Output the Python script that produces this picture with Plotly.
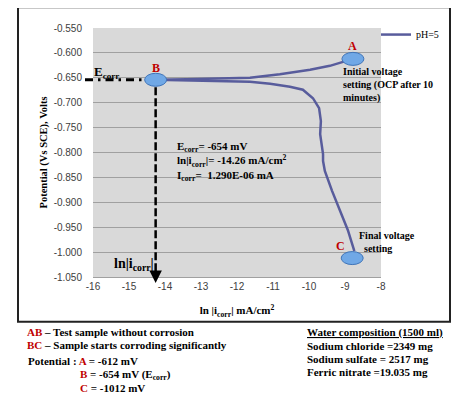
import plotly.graph_objects as go

# ---------------- data ----------------
# polarization curve (pH=5): scan A -> B (upper branch) then B -> C (lower branch)
curve_x = [-8.78, -9.06, -9.42, -9.97, -10.81, -11.64, -12.50, -13.40, -14.26,
           -13.50, -12.19, -11.64, -11.08, -10.53, -10.17, -9.89, -9.72, -9.67,
           -9.69, -9.64, -9.61, -9.61, -9.56, -9.36, -9.14, -8.92, -8.74]
curve_y = [-0.612, -0.618, -0.626, -0.634, -0.643, -0.650, -0.652, -0.653, -0.654,
           -0.655, -0.656, -0.658, -0.662, -0.668, -0.674, -0.691, -0.711, -0.737,
           -0.763, -0.791, -0.803, -0.817, -0.837, -0.877, -0.917, -0.956, -0.998]
series_name = "pH=5"

point_labels = ["A", "B", "C"]
point_x = [-8.78, -14.26, -8.80]
point_y = [-0.612, -0.654, -1.012]

E_corr = -0.654
ln_icorr = -14.26

x_ticks = [-16, -15, -14, -13, -12, -11, -10, -9, -8]
y_ticks = [-0.550, -0.600, -0.650, -0.700, -0.750, -0.800, -0.850, -0.900,
           -0.950, -1.000, -1.050]

# ---------------- layout helpers ----------------
OFF = 8                      # page body margin of the html page
W, H = 474 - OFF, 395 - OFF
L, R, T, B = 93 - OFF, 381 - OFF, 26 - OFF, 277 - OFF
XR = [-16, -8]
YR = [-1.05, -0.55]
SERIF = "Liberation Serif"
RED = "#c00000"
LINE = "#585c9c"


def px(x):
    """reference-picture pixel x -> paper"""
    return (x - OFF - L) / (R - L)


def py(y):
    """reference-picture pixel y -> paper"""
    return (B - (y - OFF)) / (B - T)


def dx(v):
    return (v - XR[0]) / (XR[1] - XR[0])


def dy(v):
    return (v - YR[0]) / (YR[1] - YR[0])


fig = go.Figure()
fig.add_trace(go.Scatter(
    x=curve_x, y=curve_y, mode="lines", name=series_name,
    line=dict(color=LINE, width=2.5), showlegend=True,
))

shapes = []
# elliptical point markers A, B, C
for xv, yv in zip(point_x, point_y):
    shapes.append(dict(
        type="circle", xref="x", yref="y", xsizemode="pixel", ysizemode="pixel",
        xanchor=xv, yanchor=yv, x0=-11, x1=11, y0=-6.5, y1=6.5,
        fillcolor="#70a8e6", line=dict(color="#3f74b8", width=1), layer="above",
    ))
# E_corr dashed horizontal guide
shapes.append(dict(
    type="line", xref="paper", yref="paper",
    x0=px(85), x1=dx(point_x[1]) - 0.038, y0=dy(E_corr), y1=dy(E_corr),
    line=dict(color="black", width=3, dash="8px,5px,2.5px,5px"),
))
# ln|i_corr| dashed vertical guide
shapes.append(dict(
    type="line", xref="paper", yref="paper",
    x0=dx(ln_icorr), x1=dx(ln_icorr), y0=dy(E_corr) - 0.03, y1=py(279),
    line=dict(color="black", width=2.5, dash="8px,3px"),
))
# outer frame
shapes.append(dict(
    type="rect", xref="paper", yref="paper",
    x0=px(18), x1=px(450), y0=py(322), y1=py(5),
    line=dict(color="#222222", width=2), fillcolor="rgba(0,0,0,0)",
))

ann = []
# point letters
shifts = {"A": (0, 13), "B": (0, 12), "C": (-12, 12)}
for lab, xv, yv in zip(point_labels, point_x, point_y):
    sx, sy = shifts[lab]
    ann.append(dict(x=xv, y=yv, xref="x", yref="y", text="<b>%s</b>" % lab,
                    showarrow=False, xshift=sx, yshift=sy,
                    font=dict(family=SERIF, size=12, color=RED)))
# arrow head at the bottom of the vertical guide
ann.append(dict(x=dx(ln_icorr), y=py(283), xref="paper", yref="paper", text="",
                showarrow=True, ax=0, ay=-10, arrowhead=2, arrowsize=1,
                arrowwidth=2.5, arrowcolor="black"))
# text labels
ann.append(dict(x=px(92), y=py(71), xref="paper", yref="paper", xanchor="left",
                yanchor="middle", showarrow=False,
                text="<b>E<sub>corr</sub></b>",
                font=dict(family=SERIF, size=13, color="black")))
ann.append(dict(x=px(112), y=py(264), xref="paper", yref="paper", xanchor="left",
                yanchor="middle", showarrow=False,
                text="<b>ln|i<sub>corr</sub>|</b>",
                font=dict(family=SERIF, size=14, color="black")))
ann.append(dict(x=px(341), y=py(62), xref="paper", yref="paper", xanchor="left",
                yanchor="top", showarrow=False, align="left",
                text="<b>Initial voltage<br>setting (OCP after 10<br>minutes)</b>",
                font=dict(family=SERIF, size=10, color="black")))
ann.append(dict(x=px(357), y=py(228), xref="paper", yref="paper", xanchor="left",
                yanchor="top", showarrow=False, align="left",
                text="<b>Final voltage<br>  setting</b>",
                font=dict(family=SERIF, size=10, color="black")))
ann.append(dict(x=px(175), y=py(137), xref="paper", yref="paper", xanchor="left",
                yanchor="top", showarrow=False, align="left",
                text="<b>E<sub>corr</sub>= -654 mV<br>ln|i<sub>corr</sub>|= -14.26 mA/cm<sup>2</sup>"
                     "<br>I<sub>corr</sub>=  1.290E-06 mA</b>",
                font=dict(family=SERIF, size=11, color="black")))

# notes below the chart
notes = [
    (25, 332, "<b><span style='color:%s'>AB</span> – Test sample without corrosion</b>" % RED),
    (25, 346, "<b><span style='color:%s'>BC</span> – Sample starts corroding significantly</b>" % RED),
    (26, 362, "<b>Potential : <span style='color:%s'>A</span> = -612 mV</b>" % RED),
    (78, 376, "<b><span style='color:%s'>B</span> = -654 mV (E<sub>corr</sub>)</b>" % RED),
    (78, 389, "<b><span style='color:%s'>C</span> = -1012 mV</b>" % RED),
    (305, 333, "<b><u>Water composition (1500 ml)</u></b>"),
    (305, 347, "<b>Sodium chloride =2349 mg</b>"),
    (305, 360, "<b>Sodium sulfate = 2517 mg</b>"),
    (305, 373, "<b>Ferric nitrate =19.035 mg</b>"),
]
for xp, yp, t in notes:
    ann.append(dict(x=px(xp), y=py(yp), xref="paper", yref="paper", xanchor="left",
                    yanchor="middle", showarrow=False, text=t,
                    font=dict(family=SERIF, size=11, color="black")))

fig.update_layout(
    width=W, height=H,
    margin=dict(l=L, r=W - R, t=T, b=H - B, pad=0),
    paper_bgcolor="white", plot_bgcolor="#d9d9d9",
    shapes=shapes, annotations=ann,
    showlegend=True,
    legend=dict(x=px(376), y=py(18), xanchor="left", yanchor="top",
                bgcolor="rgba(0,0,0,0)", itemwidth=30,
                font=dict(family=SERIF, size=10, color="black")),
    xaxis=dict(range=XR, tickvals=x_ticks, ticktext=[str(v) for v in x_ticks],
               showgrid=False, zeroline=False, showline=True, linecolor="#a0a0a0",
               linewidth=1, ticks="", tickfont=dict(family="Liberation Sans", size=10,
                                                    color="#404040"),
               title=dict(text="<b>ln |i<sub>corr</sub>| mA/cm<sup>2</sup></b>",
                          font=dict(family=SERIF, size=11, color="black"), standoff=15)),
    yaxis=dict(range=YR, tickvals=y_ticks, ticktext=["%.3f" % v for v in y_ticks],
               showgrid=True, gridcolor="#a0a0a0", gridwidth=1, zeroline=False,
               showline=False, ticks="outside", ticklen=8, tickcolor="rgba(0,0,0,0)",
               tickfont=dict(family="Liberation Sans", size=10, color="#404040"),
               title=dict(text="<b>Potential (Vs SCE), Volts</b>",
                          font=dict(family=SERIF, size=10.5, color="black"), standoff=3)),
)

fig.write_html("out.html")
